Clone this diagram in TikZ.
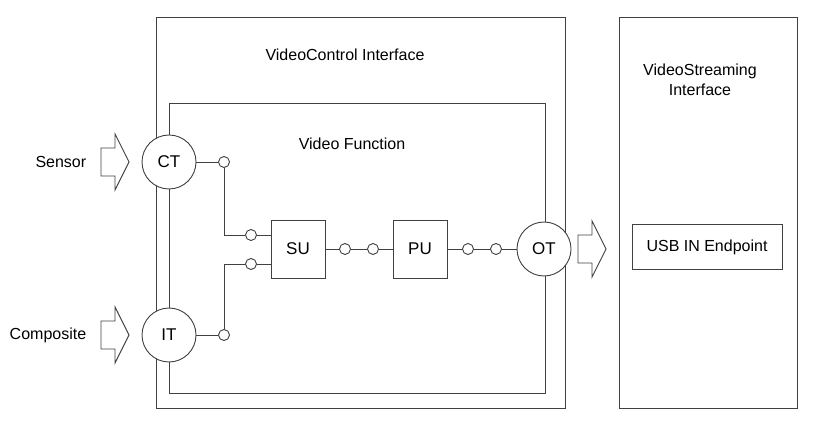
\documentclass[tikz,border=0pt]{standalone}
\usepackage{fontspec}
\setmainfont{Liberation Sans}
\begin{document}
\begin{tikzpicture}[x=1pt,y=-1pt,line width=0.9pt,draw=black!75,
  big/.style={circle,draw,minimum size=54pt,inner sep=0pt,fill=white,font=\fontsize{17}{19}\selectfont},
  sm/.style={circle,draw,minimum size=11pt,inner sep=0pt,fill=white},
  blk/.style={draw,minimum width=54pt,minimum height=58pt,inner sep=0pt,fill=white,font=\fontsize{17}{19}\selectfont},
  lbl/.style={font=\fontsize{16}{20}\selectfont,align=center},
  bar/.pic={\draw[line width=0.9pt] (0,-14)--(14,-14)--(14,-28)--(28,0)--(14,28)--(14,14)--(0,14)--cycle;}]
\useasboundingbox (0,0) rectangle (818,427);
\draw (156,17) rectangle (565,408);
\draw (619,17) rectangle (797,408);
\draw (169,103) rectangle (545,393);
\node[lbl] (vci) at (345,55) {VideoControl Interface};
\node[lbl] (vf) at (352,144) {Video Function};
\node[lbl] (vsi) at (700,80) {VideoStreaming\\Interface};
\node[big] (ct) at (169,162) {CT};
\node[big] (it) at (169,335) {IT};
\node[big] (ot) at (544,249) {OT};
\node[blk] (su) at (298,249) {SU};
\node[blk] (pu) at (420,249) {PU};
\node[draw,lbl,minimum width=150pt,minimum height=45pt,inner sep=2pt] (usb) at (707,247) {USB IN Endpoint};
\node[sm] (c1) at (224,162) {};
\node[sm] (c2) at (224,335) {};
\node[sm] (s1) at (251,235) {};
\node[sm] (s2) at (251,264) {};
\node[sm] (p1) at (345,249) {};
\node[sm] (p2) at (373,249) {};
\node[sm] (o1) at (468,249) {};
\node[sm] (o2) at (496,249) {};
\draw (ct) -- (c1); \draw (it) -- (c2);
\draw (c1) |- (s1); \draw (c2) |- (s2);
\draw (s1) -- (s1 -| su.west); \draw (s2) -- (s2 -| su.west);
\draw (su) -- (p1) -- (p2) -- (pu) -- (o1) -- (o2) -- (ot);
\node[lbl,anchor=east] (sen) at (90,162) {Sensor};
\node[lbl,anchor=east] (comp) at (90,335) {Composite};
\pic at (101,162) {bar};
\pic at (101,335) {bar};
\pic at (578,249) {bar};
\end{tikzpicture}
\end{document}
